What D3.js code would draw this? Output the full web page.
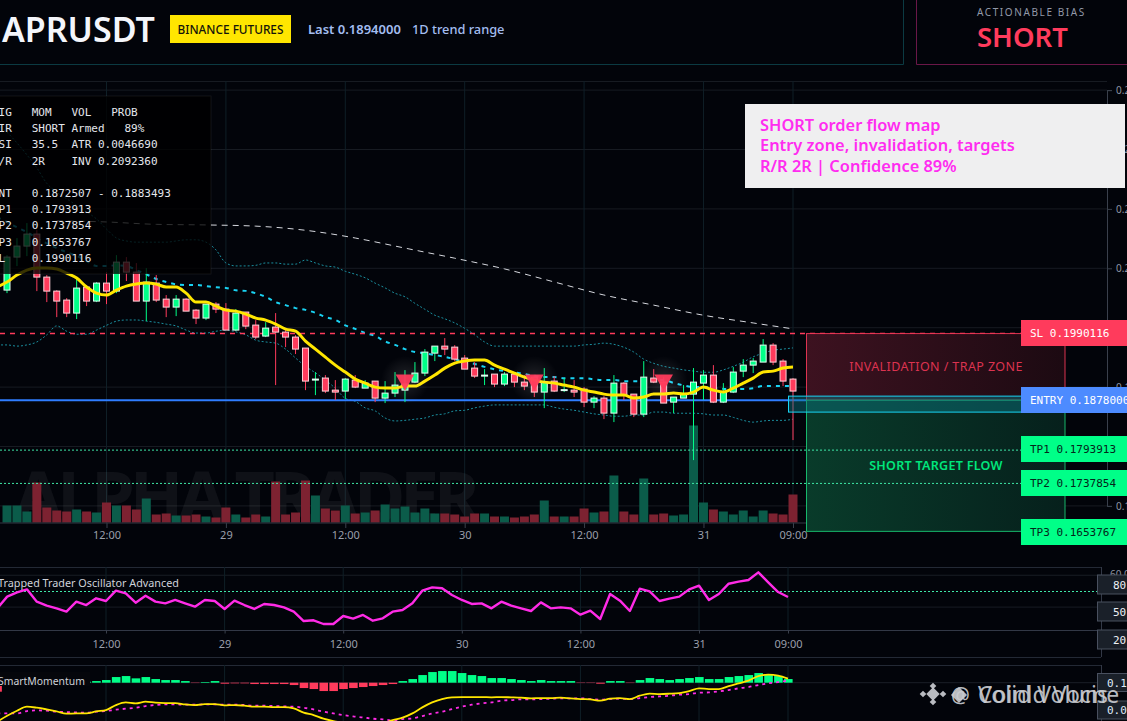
<!DOCTYPE html>
<html>
<head>
<meta charset="utf-8">
<title>APRUSDT</title>
<script src="https://cdn.jsdelivr.net/npm/d3@7"></script>
<style>
    html, body { margin: 0; padding: 0; background: #02040a; overflow: hidden; }
    svg { display: block; }
</style>
</head>
<body>
<div id="chart"></div>
<script>
// candles, first one is 10 hours before the first 12:00 tick
const firstCandleHour = -10;
const candleOpen = [
    0.20633,0.21189,0.21374,0.21576,0.20852,0.20616,0.20465,0.20246,0.20684,0.20448,
    0.20751,0.20616,0.21104,0.20936,0.20448,0.20751,0.20481,0.20347,0.20481,0.20296,
    0.20162,0.20397,0.20313,0.19960,0.20263,0.20044,0.19859,0.20010,0.19926,0.19842,
    0.19657,0.19118,0.19152,0.18949,0.18933,0.19118,0.18983,0.19101,0.18815,0.18899,
    0.18949,0.19084,0.19236,0.19572,0.19690,0.19673,0.19488,0.19320,0.19185,0.19219,
    0.19051,0.19219,0.19084,0.19168,0.18916,0.19101,0.18941,0.18949,0.18966,0.18747,
    0.18815,0.18562,0.19067,0.18882,0.18545,0.19152,0.19084,0.18747,0.18815,0.18882,
    0.19067,0.19202,0.18747,0.18916,0.19269,0.19370,0.19421,0.19707,0.19438,0.19135
];
const candleClose = [
    0.21189,0.21374,0.21576,0.20852,0.20616,0.20448,0.20246,0.20667,0.20448,0.20751,
    0.20616,0.21104,0.20936,0.20448,0.20768,0.20465,0.20347,0.20481,0.20279,0.20162,
    0.20397,0.20313,0.19960,0.20246,0.20027,0.19842,0.19993,0.19926,0.19842,0.19640,
    0.19101,0.19135,0.18933,0.18916,0.19135,0.19000,0.19067,0.18815,0.18899,0.19034,
    0.19051,0.19236,0.19589,0.19690,0.19640,0.19471,0.19303,0.19185,0.19202,0.19051,
    0.19219,0.19084,0.19017,0.18916,0.19084,0.18933,0.18957,0.18916,0.18747,0.18815,
    0.18562,0.19067,0.18865,0.18545,0.19168,0.19084,0.18731,0.18832,0.18882,0.19084,
    0.19202,0.18747,0.18916,0.19253,0.19370,0.19438,0.19707,0.19421,0.19101,0.18933
];
const candleHigh = [
    0.21222,0.21508,0.21761,0.21643,0.20886,0.20633,0.20498,0.20852,0.20717,0.20768,
    0.20936,0.21222,0.21189,0.21088,0.21003,0.20886,0.20549,0.20549,0.20498,0.20313,
    0.20397,0.20431,0.20414,0.20313,0.20263,0.20128,0.20094,0.20246,0.19960,0.19875,
    0.19657,0.19253,0.19202,0.19118,0.19152,0.19202,0.19118,0.19101,0.19101,0.19253,
    0.19286,0.19421,0.19640,0.19690,0.19825,0.19707,0.19539,0.19421,0.19303,0.19219,
    0.19253,0.19253,0.19202,0.19202,0.19320,0.19185,0.19152,0.19118,0.19000,0.18848,
    0.18848,0.19202,0.19084,0.18882,0.19438,0.19303,0.19168,0.18832,0.19034,0.19320,
    0.19286,0.19370,0.19067,0.19337,0.19471,0.19488,0.19808,0.19741,0.19471,0.19152
];
const candleLow = [
    0.20582,0.21037,0.21205,0.20616,0.20431,0.20178,0.20178,0.20145,0.20364,0.20431,
    0.20397,0.20582,0.20785,0.20448,0.20111,0.20431,0.20178,0.20195,0.20279,0.20061,
    0.20128,0.20246,0.19960,0.19943,0.19976,0.19808,0.19842,0.19034,0.19673,0.19556,
    0.18949,0.18865,0.18899,0.18781,0.18798,0.18983,0.18983,0.18747,0.18731,0.18832,
    0.18747,0.19067,0.19185,0.19438,0.19539,0.19438,0.19303,0.19152,0.19034,0.19000,
    0.19017,0.19000,0.18949,0.18832,0.18646,0.18916,0.18916,0.18832,0.18663,0.18646,
    0.18461,0.18411,0.18781,0.18495,0.18495,0.19067,0.18731,0.18562,0.18815,0.17771,
    0.18781,0.18731,0.18731,0.18899,0.19168,0.19236,0.19421,0.19370,0.19017,0.18108
];
const candleVolume = [
    17,17,11,40,15,12,11,13,11,10,
    20,17,17,13,24,8,9,7,7,8,
    6,5,15,8,5,8,6,41,8,10,
    42,27,14,12,17,9,10,12,18,14,
    16,10,14,9,9,8,6,9,9,6,
    6,5,6,8,22,6,6,6,14,10,
    11,47,11,8,44,8,9,7,8,97,
    20,13,11,8,12,6,12,9,8,28
];

// indicator lines, these start one hour earlier so they run off the left edge
const firstLineHour = -11;
const emaLine = [
    0.20684,0.20768,0.20886,0.20970,0.21003,0.21003,0.20987,0.20919,0.20835,0.20684,0.20582,
    0.20549,0.20633,0.20700,0.20734,0.20751,0.20734,0.20684,0.20684,0.20582,0.20431,
    0.20431,0.20364,0.20296,0.20279,0.20229,0.20162,0.20128,0.20061,0.19976,0.19943,
    0.19774,0.19640,0.19505,0.19370,0.19253,0.19135,0.19067,0.19000,0.18983,0.18983,
    0.19017,0.19017,0.19101,0.19202,0.19320,0.19404,0.19438,0.19455,0.19455,0.19370,
    0.19303,0.19236,0.19168,0.19118,0.19084,0.19067,0.19034,0.19000,0.18949,0.18916,
    0.18882,0.18865,0.18865,0.18815,0.18832,0.18882,0.18882,0.18899,0.18882,0.18916,
    0.19000,0.18949,0.18916,0.18983,0.19067,0.19152,0.19253,0.19269,0.19320,0.19337
];
const bandUpper = [
    0.2341,0.2329,0.2311,0.2291,0.2269,0.2243,0.2228,0.2217,0.2206,0.2195,0.2183,
    0.2166,0.2151,0.2146,0.2144,0.2144,0.2144,0.2144,0.2146,0.2148,0.2148,
    0.2144,0.2131,0.2109,0.2104,0.2104,0.2105,0.2109,0.2109,0.2107,0.2107,
    0.2114,0.2109,0.2104,0.2102,0.2095,0.2090,0.2084,0.2075,0.2067,0.2058,
    0.2052,0.2041,0.2031,0.2021,0.2015,0.2008,0.1999,0.1988,0.1976,0.1969,
    0.1969,0.1969,0.1969,0.1969,0.1969,0.1969,0.1969,0.1969,0.1971,0.1972,
    0.1974,0.1972,0.1967,0.1959,0.1947,0.1940,0.1935,0.1932,0.1929,0.1927,
    0.1925,0.1925,0.1929,0.1935,0.1942,0.1951,0.1957,0.1962,0.1964,0.1966
];
const bandMiddle = [
    0.2186,0.2178,0.2169,0.2161,0.2151,0.2142,0.2134,0.2127,0.2121,0.2112,0.2104,
    0.2104,0.2105,0.2104,0.2097,0.2090,0.2082,0.2077,0.2073,0.2072,0.2072,
    0.2070,0.2068,0.2067,0.2063,0.2062,0.2058,0.2052,0.2043,0.2038,0.2033,
    0.2030,0.2025,0.2018,0.2013,0.2004,0.1998,0.1991,0.1986,0.1977,0.1971,
    0.1964,0.1959,0.1957,0.1954,0.1951,0.1947,0.1942,0.1939,0.1934,0.1930,
    0.1927,0.1925,0.1922,0.1919,0.1917,0.1917,0.1915,0.1915,0.1915,0.1913,
    0.1912,0.1912,0.1910,0.1910,0.1910,0.1912,0.1912,0.1907,0.1903,0.1900,
    0.1900,0.1898,0.1897,0.1897,0.1897,0.1898,0.1902,0.1902,0.1902,0.1902
];
const bandLower = [
    0.1971,0.1971,0.1969,0.1971,0.1976,0.1988,0.2003,0.1994,0.1989,0.1989,0.1996,
    0.2004,0.2011,0.2013,0.2013,0.2011,0.2009,0.2006,0.2003,0.1996,0.1991,
    0.1991,0.1994,0.1996,0.1993,0.1988,0.1979,0.1976,0.1974,0.1964,0.1949,
    0.1935,0.1924,0.1912,0.1898,0.1881,0.1876,0.1865,0.1860,0.1848,0.1843,
    0.1844,0.1846,0.1848,0.1853,0.1855,0.1860,0.1861,0.1865,0.1868,0.1870,
    0.1870,0.1870,0.1870,0.1870,0.1870,0.1866,0.1863,0.1861,0.1858,0.1855,
    0.1853,0.1851,0.1851,0.1853,0.1853,0.1858,0.1858,0.1856,0.1856,0.1856,
    0.1855,0.1853,0.1853,0.1849,0.1844,0.1841,0.1843,0.1844,0.1844,0.1846
];

// slow white dashed average, read every 5 candles
const slowMaHours = [-5,0,5,10,15,20,25,30,35,40,45,50,55,60,65,69];
const slowMaValues = [0.2180,0.2178,0.2174,0.2173,0.2171,0.2164,0.2151,0.2134,0.2117,0.2099,0.2077,0.2055,0.2038,0.2021,0.2008,0.1998];

// trade levels
const levelSL = 0.1990116;
const levelEntry = 0.1878;
const levelTP1 = 0.1793913;
const levelTP2 = 0.1737854;
const levelTP3 = 0.1653767;
const entryZoneLow = 0.18579;
const entryZoneHigh = 0.18848;
const sellSignalHours = [30,43,56];
const sellSignalPrices = [0.19120,0.19120,0.19120];

const priceTicks = [0.24,0.23,0.22,0.21,0.20,0.19,0.18,0.17];
const timeTickHours = [0,12,24,36,48,60,69];
const timeTickLabels = ['12:00','29','12:00','30','12:00','31','09:00'];

const infoRows = [
    ['SIG   MOM   VOL   PROB'],
    ['DIR   SHORT Armed   89%'],
    ['RSI   35.5  ATR 0.0046690'],
    ['R/R   2R    INV 0.2092360'],
    [''],
    ['ENT   0.1872507 - 0.1883493'],
    ['TP1   0.1793913'],
    ['TP2   0.1737854'],
    ['TP3   0.1653767'],
    ['SL    0.1990116']
];
const noteLines = ['SHORT order flow map','Entry zone, invalidation, targets','R/R 2R | Confidence 89%'];

// oscillator panel
const oscLine = [
    54.1,72.1,78.7,83.3,64.4,58.2,54.1,49.0,64.4,59.2,69.5,
    65.4,81.3,77.2,62.8,73.6,64.4,61.8,67.0,61.8,56.7,
    67.0,65.4,53.1,65.9,59.2,53.1,60.8,59.2,55.6,49.0,
    34.6,35.7,30.0,30.0,42.3,38.2,43.9,35.1,38.7,49.0,
    51.5,61.8,81.3,86.4,84.9,74.6,67.0,60.8,61.8,54.1,
    64.4,58.2,54.1,50.0,63.3,54.1,55.6,54.1,44.4,50.5,
    37.7,76.2,65.9,50.0,84.4,80.3,65.4,69.0,72.1,83.3,
    89.0,67.0,76.2,92.0,95.1,97.7,109.5,94.1,79.2,71.5
];
const oscGridValues = [105,56,20];
const oscBoxValues = [80,50,20];

// momentum panel
const momHist = [
    -0.0180,-0.004,-0.004,-0.003,-0.002,-0.002,-0.001,-0.001,0.001,0.002,0.0033,
    0.0053,0.0113,0.0133,0.0087,0.0113,0.0073,0.0053,0.0053,0.0033,-0.0007,
    0.0013,0.0033,-0.0020,-0.0013,-0.0013,-0.0027,-0.0027,-0.0027,-0.0027,-0.0047,
    -0.0107,-0.0127,-0.0167,-0.0167,-0.0127,-0.0107,-0.0087,-0.0067,-0.0047,-0.0027,
    0.0033,0.0073,0.0153,0.0213,0.0233,0.0233,0.0193,0.0153,0.0133,0.0093,
    0.0093,0.0073,0.0053,0.0033,0.0053,0.0033,0.0033,0.0033,-0.0007,-0.0007,
    -0.0020,0.0033,0.0033,-0.0007,0.0053,0.0093,0.0073,0.0053,0.0073,0.0093,
    0.0113,0.0073,0.0073,0.0113,0.0133,0.0153,0.0193,0.0173,0.0133,0.0073
];
const momFast = [
    -0.0780,-0.0660,-0.0560,-0.0480,-0.0500,-0.0534,-0.0574,-0.0620,-0.0614,-0.0614,-0.0574,
    -0.0547,-0.0447,-0.0394,-0.0414,-0.0380,-0.0400,-0.0407,-0.0407,-0.0434,-0.0447,
    -0.0427,-0.0427,-0.0454,-0.0447,-0.0460,-0.0480,-0.0480,-0.0487,-0.0487,-0.0514,
    -0.0600,-0.0647,-0.0720,-0.0767,-0.0800,-0.0814,-0.0814,-0.0827,-0.0814,-0.0747,
    -0.0700,-0.0614,-0.0494,-0.0394,-0.0327,-0.0293,-0.0287,-0.0287,-0.0287,-0.0293,
    -0.0287,-0.0293,-0.0300,-0.0313,-0.0307,-0.0307,-0.0300,-0.0313,-0.0327,-0.0333,
    -0.0360,-0.0320,-0.0307,-0.0327,-0.0260,-0.0220,-0.0227,-0.0220,-0.0207,-0.0167,
    -0.0113,-0.0127,-0.0127,-0.0067,-0.0013,0.0040,0.0133,0.0160,0.0140,0.0080
];
const momSlow = [
    -0.0614,-0.0614,-0.0614,-0.0567,-0.0554,-0.0560,-0.0580,-0.0587,-0.0594,-0.0600,-0.0580,
    -0.0567,-0.0540,-0.0520,-0.0500,-0.0467,-0.0447,-0.0434,-0.0434,-0.0440,-0.0440,
    -0.0434,-0.0434,-0.0440,-0.0440,-0.0447,-0.0460,-0.0460,-0.0467,-0.0474,-0.0480,
    -0.0500,-0.0534,-0.0580,-0.0614,-0.0647,-0.0674,-0.0694,-0.0720,-0.0734,-0.0754,
    -0.0727,-0.0714,-0.0667,-0.0614,-0.0580,-0.0527,-0.0480,-0.0440,-0.0414,-0.0394,
    -0.0360,-0.0347,-0.0333,-0.0333,-0.0327,-0.0320,-0.0313,-0.0313,-0.0313,-0.0327,
    -0.0340,-0.0327,-0.0320,-0.0327,-0.0307,-0.0287,-0.0274,-0.0260,-0.0240,-0.0227,
    -0.0200,-0.0194,-0.0174,-0.0147,-0.0113,-0.0087,-0.0047,-0.0013,0.0013,0.0040
];

const RED = '#ff3b5c';
const GREEN = '#00ff88';
const BLUE = '#2f7dff';
const YELLOW = '#ffe600';
const CYAN = '#19d3f3';
const MAGENTA = '#ff2be6';
const SANS = '"Noto Sans", sans-serif';
const MONO = '"DejaVu Sans Mono", monospace';

function main() {
    // set dimensions
    const w = 1127;
    const h = 721;
    const axis_x = 1107;
    const sub_axis_x = 1101;

    const svg = d3.select('#chart').append('svg').attr('width', w).attr('height', h);
    const defs = svg.append('defs');

    function gradient(id, left, right) {
        const g = defs.append('linearGradient').attr('id', id);
        g.append('stop').attr('offset', '0%').attr('stop-color', left);
        g.append('stop').attr('offset', '100%').attr('stop-color', right);
    }
    gradient('trapFill', '#3d1220', '#1c0a12');
    gradient('targetFill', '#093b2a', '#06201c');

    const glow = defs.append('radialGradient').attr('id', 'signalGlow');
    glow.append('stop').attr('offset', '0%').attr('stop-color', 'rgba(255,255,255,0.13)');
    glow.append('stop').attr('offset', '100%').attr('stop-color', 'rgba(255,255,255,0)');

    svg.append('rect').attr('width', w).attr('height', h).attr('fill', '#02040a');

    // scales
    const x_scale = d3.scaleLinear().domain([0, 69]).range([106.5, 793]);
    const y_scale = d3.scaleLinear().domain([0.17, 0.24]).range([505.9, 90.1]);
    const vol_scale = d3.scaleLinear().domain([0, 100]).range([522.5, 422.5]);
    const sub_x_scale = d3.scaleLinear().domain([0, 69]).range([106, 788]);
    const osc_scale = d3.scaleLinear().domain([20, 80]).range([630.5, 591.5]);
    const mom_scale = d3.scaleLinear().domain([-0.1, 0.1]).range([732.7, 632.7]);

    const series = (values) => values.map((v, k) => ({ hour: firstLineHour + k, v }));
    const candles = candleOpen.map((o, k) => ({
        hour: firstCandleHour + k, o, c: candleClose[k], hi: candleHigh[k], lo: candleLow[k], vol: candleVolume[k]
    }));

    // header
    const header = svg.append('g');
    header.append('path').attr('d', `M0,64.5H903.5V0`).attr('fill', 'none').attr('stroke', '#0b3a42');
    header.append('path').attr('d', `M916.5,0V64.5H${w}`).attr('fill', 'none').attr('stroke', '#6a1748');
    header.append('text').attr('x', 2).attr('y', 42).text('APRUSDT')
        .attr('font-family', SANS).attr('font-weight', 600).attr('font-size', 34).attr('fill', '#f4f6fb');
    header.append('rect').attr('x', 170).attr('y', 15).attr('width', 121).attr('height', 28).attr('fill', YELLOW);
    header.append('text').attr('x', 230.5).attr('y', 33.5).attr('text-anchor', 'middle').text('BINANCE FUTURES')
        .attr('font-family', SANS).attr('font-weight', 500).attr('font-size', 11.8).attr('fill', '#14140a');
    header.append('text').attr('x', 308).attr('y', 34).text('Last 0.1894000')
        .attr('font-family', SANS).attr('font-weight', 600).attr('font-size', 13).attr('fill', '#a3bdf0');
    header.append('text').attr('x', 412).attr('y', 34).text('1D trend range')
        .attr('font-family', SANS).attr('font-weight', 500).attr('font-size', 12.8).attr('fill', '#a3bdf0');
    header.append('text').attr('x', 977).attr('y', 16).text('ACTIONABLE BIAS')
        .attr('font-family', SANS).attr('font-size', 10).attr('letter-spacing', 1.6).attr('fill', '#9299a8');
    header.append('text').attr('x', 977).attr('y', 47).text('SHORT')
        .attr('font-family', SANS).attr('font-weight', 600).attr('font-size', 27.5).attr('fill', RED);

    // grid of the main pane
    const grid = svg.append('g');
    grid.selectAll('line.h').data(priceTicks).enter().append('line').attr('class', 'h')
        .attr('x1', 0).attr('x2', axis_x).attr('y1', d => y_scale(d)).attr('y2', d => y_scale(d))
        .attr('stroke', '#171b22');
    grid.append('line').attr('x1', 0).attr('x2', axis_x).attr('y1', 81.5).attr('y2', 81.5).attr('stroke', '#171b22');
    grid.selectAll('line.v').data(timeTickHours).enter().append('line').attr('class', 'v')
        .attr('x1', d => x_scale(d)).attr('x2', d => x_scale(d)).attr('y1', 81).attr('y2', 523)
        .attr('stroke', '#0f1f27');

    // big faded watermark
    svg.append('text').attr('x', 14).attr('y', 522).text('ALPHA TRADER')
        .attr('font-family', SANS).attr('font-weight', 700).attr('font-size', 70)
        .attr('textLength', 466).attr('lengthAdjust', 'spacing').attr('fill', 'rgba(255,255,255,0.055)');

    // volume bars
    svg.append('g').selectAll('rect').data(candles).enter().append('rect')
        .attr('x', d => x_scale(d.hour) - 4.5)
        .attr('y', d => vol_scale(d.vol))
        .attr('width', 9)
        .attr('height', d => vol_scale(0) - vol_scale(d.vol))
        .attr('fill', d => d.c >= d.o ? '#0b5c4a' : '#7d2231');

    // price axis, time axis
    const y_axis = svg.append('g').attr('transform', `translate(${axis_x}, 0)`)
        .call(d3.axisRight(y_scale).tickValues(priceTicks).tickFormat(d3.format('.2f')).tickSize(5).tickPadding(4));
    y_axis.selectAll('text').attr('font-family', SANS).attr('font-size', 10).attr('fill', '#8f95a3');
    y_axis.selectAll('line').attr('stroke', '#3a404c');
    y_axis.select('.domain').attr('stroke', '#3a404c');

    const x_axis = svg.append('g').attr('transform', 'translate(0, 523)')
        .call(d3.axisBottom(x_scale).tickValues(timeTickHours).tickFormat((d, i) => timeTickLabels[i]).tickSize(5).tickPadding(3));
    x_axis.select('.domain').remove();
    x_axis.selectAll('line').attr('stroke', '#3a404c');
    x_axis.selectAll('text').attr('font-family', SANS).attr('font-size', 11).attr('fill', '#9a9fab');
    svg.append('line').attr('x1', 0).attr('x2', axis_x).attr('y1', 523).attr('y2', 523).attr('stroke', '#333945');

    // slow average and bollinger bands
    const smooth_line = d3.line().curve(d3.curveMonotoneX).x(d => x_scale(d.hour)).y(d => y_scale(d.v));

    svg.append('path').datum(slowMaHours.map((hour, k) => ({ hour, v: slowMaValues[k] })))
        .attr('d', smooth_line).attr('fill', 'none').attr('stroke', '#d6d8de').attr('stroke-width', 1).attr('stroke-dasharray', '6,5');
    [bandUpper, bandLower].forEach(band => {
        svg.append('path').datum(series(band)).attr('d', smooth_line).attr('fill', 'none')
            .attr('stroke', '#1a8e9e').attr('stroke-width', 1).attr('stroke-dasharray', '2,2');
    });
    svg.append('path').datum(series(bandMiddle)).attr('d', smooth_line).attr('fill', 'none')
        .attr('stroke', CYAN).attr('stroke-width', 2).attr('stroke-dasharray', '4,5');

    // level lines under the zones
    svg.append('line').attr('x1', 0).attr('x2', 1021).attr('y1', y_scale(levelSL)).attr('y2', y_scale(levelSL))
        .attr('stroke', RED).attr('stroke-width', 1.6).attr('stroke-dasharray', '5,5');
    svg.append('line').attr('x1', 0).attr('x2', 1021).attr('y1', y_scale(levelEntry)).attr('y2', y_scale(levelEntry))
        .attr('stroke', BLUE).attr('stroke-width', 2);

    // candles
    const candle_g = svg.append('g');
    const wick_color = d => d.c >= d.o ? GREEN : RED;
    candle_g.selectAll('line').data(candles).enter().append('line')
        .attr('x1', d => x_scale(d.hour)).attr('x2', d => x_scale(d.hour))
        .attr('y1', d => y_scale(d.hi)).attr('y2', d => y_scale(d.lo))
        .attr('stroke', wick_color).attr('stroke-width', 1);
    candle_g.selectAll('rect').data(candles).enter().append('rect')
        .attr('x', d => x_scale(d.hour) - 3)
        .attr('y', d => y_scale(Math.max(d.o, d.c)))
        .attr('width', 6)
        .attr('height', d => Math.max(0.5, Math.abs(y_scale(d.o) - y_scale(d.c))))
        .attr('fill', wick_color)
        .attr('stroke', d => d.c >= d.o ? '#e4fff3' : '#ffd3da')
        .attr('stroke-width', 1);

    // zones on the right
    const zone_x = 806.5;
    const zone_w = 258.5;
    svg.append('rect').attr('x', zone_x).attr('y', y_scale(levelSL)).attr('width', zone_w)
        .attr('height', y_scale(levelEntry) - y_scale(levelSL))
        .attr('fill', 'url(#trapFill)').attr('stroke', RED).attr('stroke-opacity', 0.85);
    svg.append('rect').attr('x', zone_x).attr('y', y_scale(levelEntry)).attr('width', zone_w)
        .attr('height', y_scale(levelTP3) - 2 - y_scale(levelEntry))
        .attr('fill', 'url(#targetFill)').attr('stroke', '#19c974').attr('stroke-opacity', 0.9);
    svg.append('rect').attr('x', 788.5).attr('y', y_scale(entryZoneHigh)).attr('width', 240)
        .attr('height', y_scale(entryZoneLow) - y_scale(entryZoneHigh))
        .attr('fill', 'rgba(10,120,130,0.45)').attr('stroke', CYAN);
    svg.append('text').attr('x', 936).attr('y', 371).attr('text-anchor', 'middle').text('INVALIDATION / TRAP ZONE')
        .attr('font-family', SANS).attr('font-size', 12.5).attr('letter-spacing', 0.4).attr('fill', '#dc3350');
    svg.append('text').attr('x', 936).attr('y', 470).attr('text-anchor', 'middle').text('SHORT TARGET FLOW')
        .attr('font-family', SANS).attr('font-weight', 600).attr('font-size', 12.5).attr('letter-spacing', 0.3).attr('fill', '#00e67c');

    // target lines
    svg.append('g').selectAll('line').data([levelTP1, levelTP2]).enter().append('line')
        .attr('x1', 0).attr('x2', 1021).attr('y1', d => y_scale(d)).attr('y2', d => y_scale(d))
        .attr('stroke', '#3fe8a8').attr('stroke-width', 1).attr('stroke-dasharray', '2,2');

    // fast average
    svg.append('path').datum(series(emaLine)).attr('d', smooth_line).attr('fill', 'none')
        .attr('stroke', YELLOW).attr('stroke-width', 3).attr('stroke-linejoin', 'round');

    // sell signals
    const signals = sellSignalHours.map((hour, k) => ({ hour, p: sellSignalPrices[k] }));
    svg.append('g').selectAll('circle').data(signals).enter().append('circle')
        .attr('cx', d => x_scale(d.hour)).attr('cy', d => y_scale(d.p)).attr('r', 24)
        .attr('fill', 'url(#signalGlow)');
    svg.append('g').selectAll('path').data(signals).enter().append('path')
        .attr('d', d3.symbol().type(d3.symbolTriangle).size(150))
        .attr('transform', d => `translate(${x_scale(d.hour)}, ${y_scale(d.p)}) rotate(180)`)
        .attr('fill', RED).attr('fill-opacity', 0.95);

    // level tags
    const tags = [
        { text: 'SL 0.1990116', top: 320, bg: RED, fg: '#ffffff' },
        { text: 'ENTRY 0.1878000', top: 387, bg: '#4d8bff', fg: '#ffffff' },
        { text: 'TP1 0.1793913', top: 436, bg: GREEN, fg: '#04251a' },
        { text: 'TP2 0.1737854', top: 470, bg: GREEN, fg: '#04251a' },
        { text: 'TP3 0.1653767', top: 519, bg: GREEN, fg: '#04251a' }
    ];
    const tag = svg.append('g').selectAll('g').data(tags).enter().append('g');
    tag.append('rect').attr('x', 1021).attr('y', d => d.top).attr('width', 106).attr('height', 26).attr('fill', d => d.bg);
    tag.append('text').attr('x', 1030).attr('y', d => d.top + 17).text(d => d.text)
        .attr('font-family', MONO).attr('font-size', 11).attr('fill', d => d.fg);

    // info table over the chart
    svg.append('rect').attr('x', -2).attr('y', 96).attr('width', 213).attr('height', 178)
        .attr('fill', 'rgba(0,0,0,0.78)').attr('stroke', 'rgba(255,255,255,0.07)');
    svg.append('g').selectAll('text').data(infoRows).enter().append('text')
        .attr('x', -8).attr('y', (d, i) => 116 + i * 16.2)
        .attr('xml:space', 'preserve').style('white-space', 'pre')
        .text(d => d[0])
        .attr('font-family', MONO).attr('font-size', 11).attr('fill', '#e4e6ec');

    // note box
    svg.append('rect').attr('x', 745).attr('y', 104).attr('width', 380).attr('height', 84).attr('fill', '#efeff0');
    svg.append('g').selectAll('text').data(noteLines).enter().append('text')
        .attr('x', 760).attr('y', (d, i) => 131 + i * 20.3).text(d => d)
        .attr('font-family', SANS).attr('font-weight', 600).attr('font-size', 16.4).attr('fill', '#ff2cf0');

    // oscillator pane
    const osc = svg.append('g');
    osc.append('line').attr('x1', 0).attr('x2', sub_axis_x).attr('y1', 567.5).attr('y2', 567.5).attr('stroke', '#232935');
    osc.selectAll('line.g').data(oscGridValues).enter().append('line').attr('class', 'g')
        .attr('x1', 0).attr('x2', sub_axis_x).attr('y1', d => osc_scale(d)).attr('y2', d => osc_scale(d))
        .attr('stroke', d => d === 20 ? '#323846' : '#181c24');
    osc.selectAll('line.v').data(timeTickHours).enter().append('line').attr('class', 'v')
        .attr('x1', d => sub_x_scale(d)).attr('x2', d => sub_x_scale(d)).attr('y1', 567).attr('y2', 630)
        .attr('stroke', '#0f1f27');
    osc.append('line').attr('x1', 0).attr('x2', 1097).attr('y1', osc_scale(80)).attr('y2', osc_scale(80))
        .attr('stroke', '#3fe8a8').attr('stroke-dasharray', '2,2');
    osc.append('line').attr('x1', sub_axis_x + 0.5).attr('x2', sub_axis_x + 0.5).attr('y1', 567).attr('y2', 657).attr('stroke', '#323846');
    osc.append('path').datum(series(oscLine))
        .attr('d', d3.line().x(d => sub_x_scale(d.hour)).y(d => osc_scale(d.v)))
        .attr('fill', 'none').attr('stroke', MAGENTA).attr('stroke-width', 2.4).attr('stroke-linejoin', 'round');
    osc.append('text').attr('x', -2).attr('y', 587).text('Trapped Trader Oscillator Advanced')
        .attr('font-family', SANS).attr('font-size', 10.8).attr('fill', '#cfd2d9');

    const sub_axis = svg.append('g').attr('transform', 'translate(0, 630.5)')
        .call(d3.axisBottom(sub_x_scale).tickValues(timeTickHours).tickFormat((d, i) => timeTickLabels[i]).tickSize(3).tickPadding(7));
    sub_axis.select('.domain').remove();
    sub_axis.selectAll('line').attr('stroke', '#3a404c');
    sub_axis.selectAll('text').attr('font-family', SANS).attr('font-size', 11).attr('fill', '#9a9fab');

    svg.append('text').attr('x', 1110).attr('y', 578).text('60.0')
        .attr('font-family', SANS).attr('font-size', 10).attr('fill', '#8f95a3');
    const box_centers = [584.5, 611.5, 639.5];
    oscBoxValues.forEach((v, k) => {
        svg.append('rect').attr('x', 1097.5).attr('y', box_centers[k] - 9.5).attr('width', 34).attr('height', 19)
            .attr('fill', '#1a2029').attr('stroke', '#49505f');
        svg.append('text').attr('x', 1113).attr('y', box_centers[k] + 4).text(v)
            .attr('font-family', MONO).attr('font-size', 11).attr('fill', '#eef0f5');
    });

    // momentum pane
    const mom = svg.append('g');
    mom.append('line').attr('x1', 0).attr('x2', sub_axis_x).attr('y1', 657.5).attr('y2', 657.5).attr('stroke', '#232935');
    mom.append('line').attr('x1', 0).attr('x2', sub_axis_x).attr('y1', 665.5).attr('y2', 665.5).attr('stroke', '#232935');
    mom.append('line').attr('x1', 0).attr('x2', sub_axis_x).attr('y1', mom_scale(0)).attr('y2', mom_scale(0)).attr('stroke', '#1b1f28');
    mom.selectAll('line.v').data(timeTickHours).enter().append('line').attr('class', 'v')
        .attr('x1', d => sub_x_scale(d)).attr('x2', d => sub_x_scale(d)).attr('y1', 665).attr('y2', h)
        .attr('stroke', '#0f1f27');
    mom.append('line').attr('x1', sub_axis_x + 0.5).attr('x2', sub_axis_x + 0.5).attr('y1', 665).attr('y2', h).attr('stroke', '#323846');
    mom.selectAll('rect').data(series(momHist)).enter().append('rect')
        .attr('x', d => sub_x_scale(d.hour) - 4)
        .attr('y', d => mom_scale(Math.max(d.v, 0)))
        .attr('width', 8.6)
        .attr('height', d => Math.abs(mom_scale(d.v) - mom_scale(0)))
        .attr('fill', d => d.v >= 0 ? GREEN : RED);
    const mom_line = d3.line().curve(d3.curveMonotoneX).x(d => sub_x_scale(d.hour)).y(d => mom_scale(d.v));
    mom.append('path').datum(series(momSlow)).attr('d', mom_line).attr('fill', 'none')
        .attr('stroke', MAGENTA).attr('stroke-width', 1.8).attr('stroke-dasharray', '3,4');
    mom.append('path').datum(series(momFast)).attr('d', mom_line).attr('fill', 'none')
        .attr('stroke', YELLOW).attr('stroke-width', 1.8);
    mom.append('rect').attr('x', 0).attr('y', 672).attr('width', 90).attr('height', 14).attr('fill', '#05060b');
    mom.append('text').attr('x', -2).attr('y', 685).text('SmartMomentum')
        .attr('font-family', SANS).attr('font-size', 10.4).attr('fill', '#cfd2d9');

    // value boxes of the momentum pane
    [['0.10', 682.5], ['0.0', 710]].forEach(b => {
        svg.append('rect').attr('x', 1097.5).attr('y', b[1] - 9).attr('width', 34).attr('height', 18)
            .attr('fill', '#1a2029').attr('stroke', '#49505f');
        svg.append('text').attr('x', 1107).attr('y', b[1] + 4).text(b[0])
            .attr('font-family', MONO).attr('font-size', 11).attr('fill', '#dfeaf8');
    });

    // site watermark, two overlapping stamps
    const stamp = svg.append('g').attr('fill', '#c9cbd0').attr('fill-opacity', 0.92);
    [[933, 694, 90], [923, 694, 22], [943, 694, 22], [933, 686, 22], [933, 702, 22], [959, 695, 130]].forEach(p => {
        stamp.append('path').attr('d', d3.symbol().type(d3.symbolSquare).size(p[2]))
            .attr('transform', `translate(${p[0]}, ${p[1]}) rotate(45)`);
    });
    stamp.append('text').attr('x', 951).attr('y', 703).text('@')
        .attr('font-family', SANS).attr('font-size', 21);
    stamp.append('text').attr('x', 978).attr('y', 703).text('Coinld Vocis')
        .attr('font-family', SANS).attr('font-size', 23);
    stamp.append('text').attr('x', 978).attr('y', 703).text('Volid Volume')
        .attr('font-family', SANS).attr('font-size', 23);
}

main()
</script>
</body>
</html>
